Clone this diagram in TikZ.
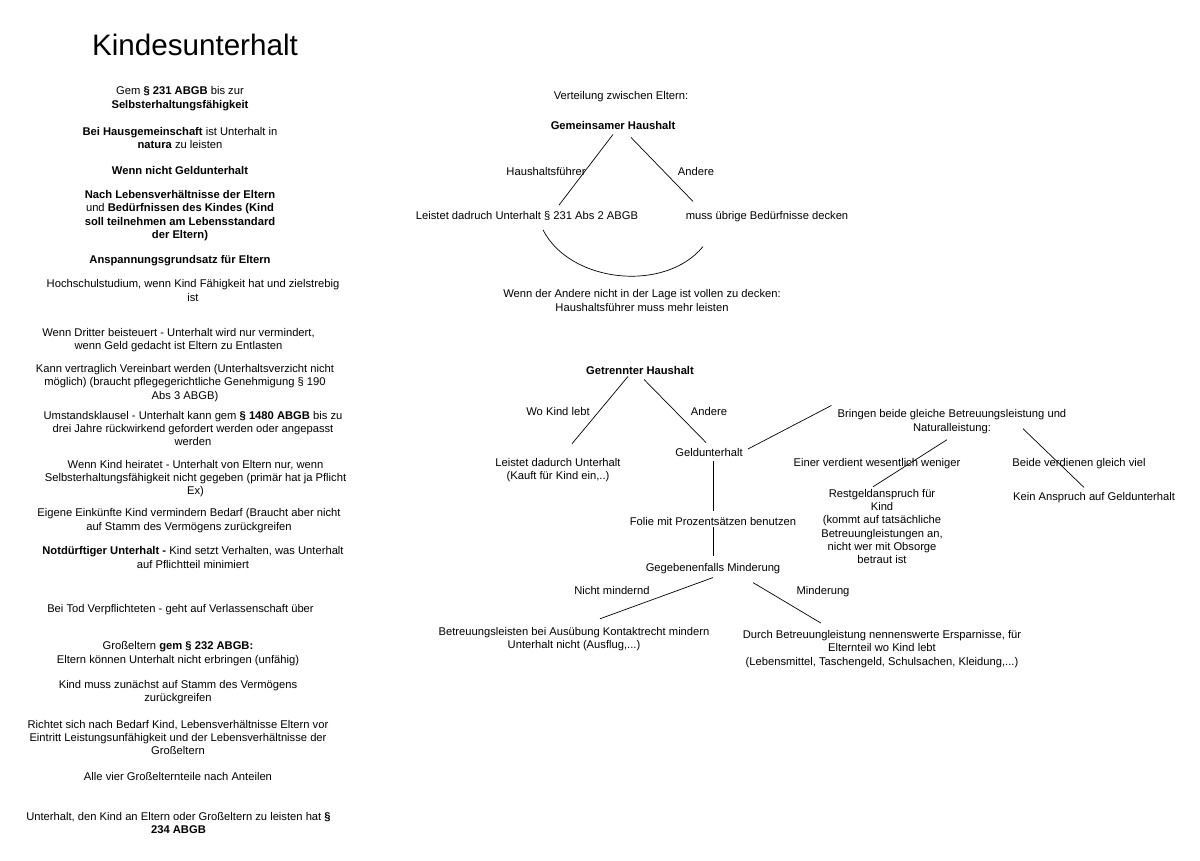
\documentclass[tikz,border=0pt]{standalone}
\usepackage{fontspec}
\setmainfont{Liberation Sans}
\usetikzlibrary{calc}

\begin{document}
\begin{tikzpicture}[x=1pt,y=-1pt,line width=0.7pt,
	txt/.style={align=center, inner sep=1pt, font=\fontsize{11.2}{13.3}\selectfont}]
			\useasboundingbox (0,0) rectangle (1200,861);
			% linke Spalte
			\node[inner sep=0pt, font=\fontsize{29.6}{34}\selectfont] (title) at (195,45) {Kindesunterhalt};
			\node[txt] (gem) at (180,98.5) {Gem \textbf{§ 231 ABGB} bis zur\\\textbf{Selbsterhaltungsfähigkeit}};
			\node[txt] (hg) at (180,138) {\textbf{Bei Hausgemeinschaft} ist Unterhalt in\\\textbf{natura} zu leisten};
			\node[txt] (wng) at (180,170) {\textbf{Wenn nicht Geldunterhalt}};
			\node[txt] (lv) at (180,215.5) {\textbf{Nach Lebensverhältnisse der Eltern}\\und \textbf{Bedürfnissen des Kindes (Kind}\\\textbf{soll teilnehmen am Lebensstandard}\\\textbf{der Eltern)}};
			\node[txt] (asp) at (180,261) {\textbf{Anspannungsgrundsatz für Eltern}};
			\node[txt] (hs) at (193,290.5) {Hochschulstudium, wenn Kind Fähigkeit hat und zielstrebig\\ist};
			\node[txt] (dr) at (178.5,340) {Wenn Dritter beisteuert - Unterhalt wird nur vermindert,\\wenn Geld gedacht ist Eltern zu Entlasten};
			\node[txt] (kv) at (185,383) {Kann vertraglich Vereinbart werden (Unterhaltsverzicht nicht\\möglich) (braucht pflegegerichtliche Genehmigung § 190\\Abs 3 ABGB)};
			\node[txt] (uk) at (193,428.5) {Umstandsklausel - Unterhalt kann gem \textbf{§ 1480 ABGB} bis zu\\drei Jahre rückwirkend gefordert werden oder angepasst\\werden};
			\node[txt] (kh) at (195.5,478.5) {Wenn Kind heiratet - Unterhalt von Eltern nur, wenn\\Selbsterhaltungsfähigkeit nicht gegeben (primär hat ja Pflicht\\Ex)};
			\node[txt] (ek) at (189,520.5) {Eigene Einkünfte Kind vermindern Bedarf (Braucht aber nicht\\auf Stamm des Vermögens zurückgreifen};
			\node[txt] (nu) at (193,557.5) {\textbf{Notdürftiger Unterhalt -} Kind setzt Verhalten, was Unterhalt\\auf Pflichtteil minimiert};
			\node[txt] (tod) at (180.5,610) {Bei Tod Verpflichteten - geht auf Verlassenschaft über};
			\node[txt] (ge) at (178,653.5) {Großeltern \textbf{gem § 232 ABGB:}\\Eltern können Unterhalt nicht erbringen (unfähig)};
			\node[txt] (st) at (178,692) {Kind muss zunächst auf Stamm des Vermögens\\zurückgreifen};
			\node[txt] (bed) at (178,737.5) {Richtet sich nach Bedarf Kind, Lebensverhältnisse Eltern vor\\Eintritt Leistungsunfähigkeit und der Lebensverhältnisse der\\Großeltern};
			\node[txt] (vier) at (178,776) {Alle vier Großelternteile nach Anteilen};
			\node[txt] (rev) at (178.5,823) {Unterhalt, den Kind an Eltern oder Großeltern zu leisten hat \textbf{§}\\\textbf{234 ABGB}};
			% gemeinsamer Haushalt
			\node[txt] (vz) at (621,97) {Verteilung zwischen Eltern:};
			\node[txt] (gh) at (613,125) {\textbf{Gemeinsamer Haushalt}};
			\node[txt] (hf) at (546,171) {Haushaltsführer};
			\node[txt] (an1) at (696,171) {Andere};
			\node[txt] (lf) at (527,216) {Leistet dadruch Unterhalt § 231 Abs 2 ABGB};
			\node[txt] (mu) at (767,217) {muss übrige Bedürfnisse decken};
			\node[txt] (wa) at (642,300.5) {Wenn der Andere nicht in der Lage ist vollen zu decken:\\Haushaltsführer muss mehr leisten};
			\draw ($(gh.south)+(0,4)$) -- ($(lf.north)+(32,-5)$);
			\draw ($(gh.south)+(18,7)$) -- ($(mu.north)+(-74,-9)$);
			\draw ($(lf.south)+(16,8)$) .. controls (570,283) and (665,293) .. ($(mu.south)+(-64,23)$);
			% getrennter Haushalt
			\node[txt] (gt) at (640,370) {\textbf{Getrennter Haushalt}};
			\node[txt] (wk) at (558,411) {Wo Kind lebt};
			\node[txt] (an2) at (709,411) {Andere};
			\node[txt] (lk) at (558,470) {Leistet dadurch Unterhalt\\(Kauft für Kind ein,..)};
			\node[txt] (gu) at (709,452) {Geldunterhalt};
			\node[txt] (bb) at (952,421.5) {Bringen beide gleiche Betreuungsleistung und\\Naturalleistung:};
			\node[txt] (ev) at (877,464) {Einer verdient wesentlich weniger};
			\node[txt] (bv) at (1079,464) {Beide verdienen gleich viel};
			\node[txt] (rg) at (882,526.5) {Restgeldanspruch für\\Kind\\(kommt auf tatsächliche\\Betreuungleistungen an,\\nicht wer mit Obsorge\\betraut ist};
			\node[txt] (ka) at (1094,498) {Kein Anspruch auf Geldunterhalt};
			\node[txt] (fp) at (713,521) {Folie mit Prozentsätzen benutzen};
			\node[txt] (gm) at (713,569) {Gegebenenfalls Minderung};
			\node[txt] (nm) at (612,590) {Nicht mindernd};
			\node[txt] (mi) at (823,591.5) {Minderung};
			\node[txt] (bk) at (574,639) {Betreuungsleisten bei Ausübung Kontaktrecht mindern\\Unterhalt nicht (Ausflug,...)};
			\node[txt] (du) at (882,649) {Durch Betreuungleistung nennenswerte Ersparnisse, für\\Elternteil wo Kind lebt\\(Lebensmittel, Taschengeld, Schulsachen, Kleidung,...)};
			\draw ($(gt.south)+(-12,1)$) -- ($(lk.north)+(14,-13)$);
			\draw ($(gt.south)+(4,4)$) -- ($(gu.north)+(-3,-4)$);
			\draw ($(gu.east)+(4,-3)$) -- ($(bb.west)+(-5,-16)$);
			\draw ($(bb.south)+(-5,5)$) -- ($(rg.north)+(-9,-1)$);
			\draw ($(bb.south)+(71,-6)$) -- ($(ka.north)+(-10,-4)$);
			\draw ($(gu.south)+(4,4)$) -- ($(fp.north)+(0,-5)$);
			\draw ($(fp.south)+(0,1)$) -- ($(gm.north)+(0,-6)$);
			\draw ($(gm.south)+(0,2)$) -- ($(bk.north)+(26,-7)$);
			\draw ($(gm.south)+(40,7)$) -- ($(du.north)+(-61,-6)$);
		\end{tikzpicture}
\end{document}
